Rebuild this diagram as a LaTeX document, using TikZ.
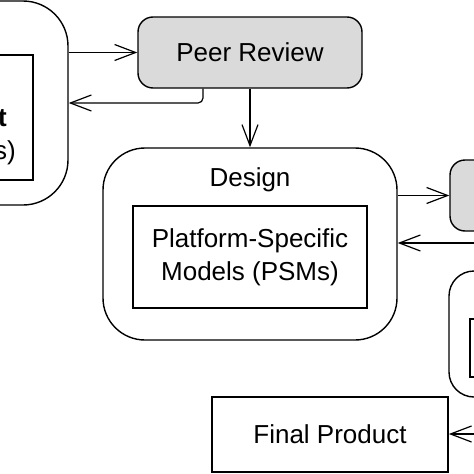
\documentclass[tikz,border=0pt]{standalone}
\usepackage{fontspec}
\setmainfont{Liberation Sans}
\usetikzlibrary{arrows.meta}
\definecolor{boxgray}{RGB}{218,218,218}
\begin{document}
\begin{tikzpicture}[x=1pt,y=-1pt,
  box/.style={draw=black, line width=1.4pt, inner sep=0pt, align=center,
    font=\fontsize{26}{33}\selectfont},
  roundbig/.style={box, rounded corners=42pt},
  roundsmall/.style={box, rounded corners=15pt, fill=boxgray},
  lbl/.style={inner sep=0pt, font=\fontsize{26}{33}\selectfont},
  arr/.style={draw=black, line width=1.2pt, -{Straight Barb[length=21pt,width=16pt]}}]
\useasboundingbox (0,0) rectangle (474,474);
\clip (0,0) rectangle (474,474);
\fill[white] (0,0) rectangle (474,474);

% left (partly visible) stage
\node[roundbig, rounded corners=45pt, minimum width=298pt, minimum height=204pt] (leftbox) at (-81,103) {};
\node[box, minimum width=233pt, minimum height=125pt] (leftinner) at (-83.5,117.5) {};
\node[lbl, anchor=base east] (lefttxt1) at (7,126) {\textbf{t}};
\node[lbl, anchor=base east] (lefttxt2) at (16,159) {s)};

% peer review
\node[roundsmall, minimum width=224pt, minimum height=71pt] (peer) at (250,52.5) {Peer Review};

% design
\node[roundbig, minimum width=294pt, minimum height=192pt] (design) at (250,244) {};
\node[lbl, anchor=base] (designlbl) at (250,186) {Design};
\node[box, minimum width=234pt, minimum height=102pt] (designinner) at (250,257) {Platform-Specific\\Models (PSMs)};

% right (partly visible) shapes
\node[roundsmall, minimum width=230pt, minimum height=71pt] (rightgray) at (565,195.5) {};
\node[box, rounded corners=25pt, minimum width=251pt, minimum height=126pt] (rightstage) at (574.5,334) {};
\node[box, minimum width=210pt, minimum height=58pt] (rightinner) at (575,348) {};

% final product
\node[box, line width=1.7pt, minimum width=236pt, minimum height=75pt] (final) at (330,434.5) {Final Product};

% connectors
\coordinate (rin) at (490,243);
\coordinate (fin) at (490,434);
\draw[arr] (peer.west -| leftbox.east) -- (peer.west);
\draw[arr, rounded corners=5pt] ([xshift=-47pt]peer.south) |- (leftbox.east |- 0,103);
\draw[arr] (peer.south) -- (design.north);
\draw[arr] (rightgray.west -| design.east) -- (rightgray.west);
\draw[arr] (rin) -- (design.east |- rin);
\draw[arr] (fin) -- (final.east |- fin);
\end{tikzpicture}
\end{document}
